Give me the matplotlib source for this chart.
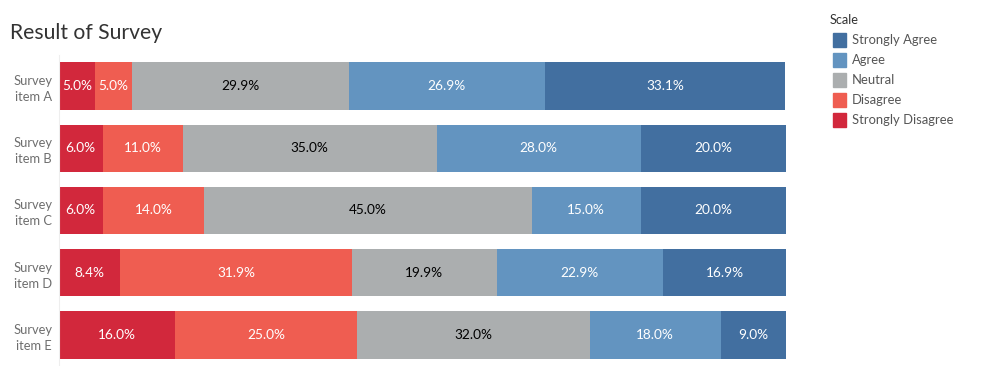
import numpy as np
import matplotlib.pyplot as plt
from matplotlib.patches import Rectangle

plt.rcParams['font.family'] = ['Lato', 'DejaVu Sans']

items = ['Survey\nitem A', 'Survey\nitem B', 'Survey\nitem C', 'Survey\nitem D', 'Survey\nitem E']
scale = ['Strongly Disagree', 'Disagree', 'Neutral', 'Agree', 'Strongly Agree']
strongly_disagree = [5.0, 6.0, 6.0, 8.4, 16.0]
disagree = [5.0, 11.0, 14.0, 31.9, 25.0]
neutral = [29.9, 35.0, 45.0, 19.9, 32.0]
agree = [26.9, 28.0, 15.0, 22.9, 18.0]
strongly_agree = [33.1, 20.0, 20.0, 16.9, 9.0]

series = [strongly_disagree, disagree, neutral, agree, strongly_agree]
colors = ['#d2283c', '#ef5d51', '#abaeaf', '#6394c0', '#426fa0']
text_colors = ['white', 'white', 'black', 'white', 'white']

fig = plt.figure(figsize=(9.81, 3.66), dpi=100)
ax = fig.add_axes([59 / 981, 0, 727 / 981, 311 / 366])

y = np.arange(len(items))
left = np.zeros(len(items))
for vals, col, tc in zip(series, colors, text_colors):
    vals = np.array(vals)
    ax.barh(y, vals, left=left, height=0.76, color=col, linewidth=0)
    for yi, (l, v) in enumerate(zip(left, vals)):
        ax.text(l + v / 2, yi, f'{v:.1f}%', ha='center', va='center',
                color=tc, fontsize=9.8)
    left += vals

ax.set_xlim(0, left.max())
ax.set_ylim(len(items) - 0.5, -0.5)
ax.set_yticks(y)
ax.set_yticklabels(items, fontsize=9.3, color='#6e6e6e', linespacing=1.4)
ax.tick_params(axis='y', length=0, pad=5)
ax.set_xticks([])
for s in ['top', 'right', 'bottom']:
    ax.spines[s].set_visible(False)
ax.spines['left'].set_color('#eeeeee')

# Title
fig.text(10 / 981, 1 - 33 / 366, 'Result of Survey', fontsize=15.2,
         color='#333333', va='center', ha='left')

# Legend
fig.text(830 / 981, 1 - 20 / 366, 'Scale', fontsize=9.2, color='#333333',
         va='center', ha='left')
for i, (name, col) in enumerate(zip(scale[::-1], colors[::-1])):
    yc = 40 + i * 20
    fig.patches.append(Rectangle((833 / 981, 1 - (yc + 7) / 366), 13 / 981, 14 / 366,
                                 transform=fig.transFigure, color=col))
    fig.text(852 / 981, 1 - yc / 366, name, fontsize=9.4, color='#555555',
             va='center', ha='left')

fig.savefig('out.png', dpi=100)
